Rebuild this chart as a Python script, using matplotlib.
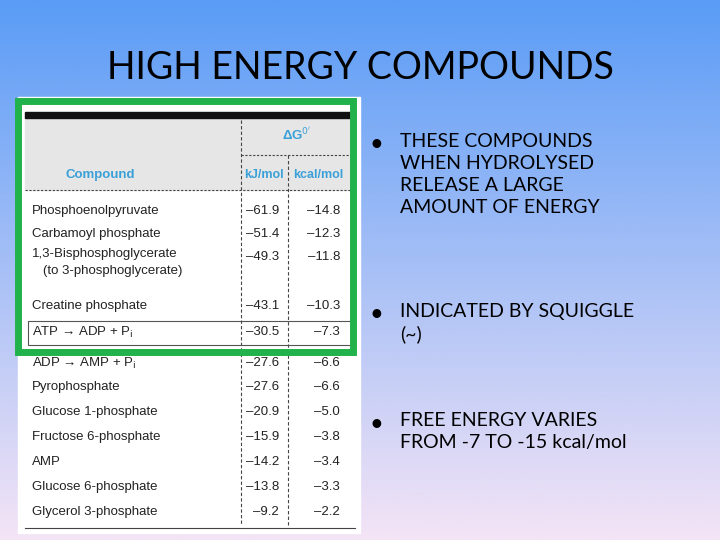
import matplotlib
matplotlib.use("Agg")
import matplotlib.pyplot as plt
import numpy as np
from matplotlib.patches import Rectangle

compounds = ["Phosphoenolpyruvate", "Carbamoyl phosphate", "1,3-Bisphosphoglycerate\n   (to 3-phosphoglycerate)",
             "Creatine phosphate", "ATP → ADP + P$_\\mathrm{i}$", "ADP → AMP + P$_\\mathrm{i}$", "Pyrophosphate",
             "Glucose 1-phosphate", "Fructose 6-phosphate", "AMP", "Glucose 6-phosphate", "Glycerol 3-phosphate"]
kj = ["–61.9", "–51.4", "–49.3", "–43.1", "–30.5", "–27.6", "–27.6", "–20.9", "–15.9", "–14.2", "–13.8", "–9.2"]
kcal = ["–14.8", "–12.3", "–11.8", "–10.3", "–7.3", "–6.6", "–6.6", "–5.0", "–3.8", "–3.4", "–3.3", "–2.2"]
row_y = [211, 234, 257, 306, 332, 363, 387, 412, 437, 462, 487, 512]
bullets = ["THESE COMPOUNDS\nWHEN HYDROLYSED\nRELEASE A LARGE\nAMOUNT OF ENERGY",
           "INDICATED BY SQUIGGLE\n(~)",
           "FREE ENERGY VARIES\nFROM -7 TO -15 kcal/mol"]
bullet_y = [145, 315, 424]

plt.rcParams['font.family'] = ['Liberation Sans', 'DejaVu Sans']
fig = plt.figure(figsize=(7.2, 5.4), dpi=100)
ax = fig.add_axes([0, 0, 1, 1])
ax.set_xlim(0, 720); ax.set_ylim(540, 0); ax.axis('off')

top = np.array([0x5a, 0x9c, 0xf6]) / 255
bot = np.array([0xf4, 0xe4, 0xf6]) / 255
t = np.linspace(0, 1, 256)[:, None, None]
grad = top * (1 - t) + bot * t
grad = np.repeat(grad, 2, axis=1)
ax.imshow(grad, extent=[0, 720, 540, 0], aspect='auto', zorder=0)

slide = ['Lato', 'DejaVu Sans']
ax.text(360, 68, "HIGH ENERGY COMPOUNDS", ha='center', va='center', fontsize=27, color='black', family=slide)

# table
ax.add_patch(Rectangle((18, 97), 342, 436, color='white', zorder=1))
ax.add_patch(Rectangle((25, 117), 330, 73, color='#e6e6e6', zorder=1))
ax.add_patch(Rectangle((25, 112), 330, 6, color='#111111', zorder=2))
ax.plot([241, 241], [120, 525], color='#444', lw=0.8, ls=(0, (3, 2)), zorder=2)
ax.plot([288, 288], [155, 525], color='#444', lw=0.8, ls=(0, (3, 2)), zorder=2)
ax.plot([241, 355], [155, 155], color='#444', lw=0.8, ls=(0, (2, 1.5)), zorder=2)
ax.plot([25, 355], [190, 190], color='#444', lw=0.8, ls=(0, (2, 1.5)), zorder=2)
ax.plot([25, 355], [528, 528], color='#444', lw=0.8, zorder=2)
ax.add_patch(Rectangle((28, 321), 325, 24, fill=False, ec='#555', lw=0.8, zorder=2))
hc = '#3aa0d8'
ax.text(297, 135, "ΔG$^{0'}$", ha='center', va='center', fontsize=9.5, color=hc, weight='bold', zorder=3)
ax.text(100, 175, "Compound", ha='center', va='center', fontsize=9.5, color=hc, weight='bold', zorder=3)
ax.text(264, 175, "kJ/mol", ha='center', va='center', fontsize=9, color=hc, weight='bold', zorder=3)
ax.text(318, 175, "kcal/mol", ha='center', va='center', fontsize=9, color=hc, weight='bold', zorder=3)
for c, a, b, y in zip(compounds, kj, kcal, row_y):
    if "\n" in c:
        ax.text(32, y - 9, c, ha='left', va='top', fontsize=9.5, color='#222', linespacing=1.6, zorder=3)
    else:
        ax.text(32, y, c, ha='left', va='center', fontsize=9.5, color='#222', zorder=3)
    ax.text(279, y, a, ha='right', va='center', fontsize=9.5, color='#222', zorder=3)
    ax.text(340, y, b, ha='right', va='center', fontsize=9.5, color='#222', zorder=3)

ax.add_patch(Rectangle((18, 101), 335, 251, fill=False, ec='#21b24b', lw=5, zorder=4))

for txt, y in zip(bullets, bullet_y):
    ax.text(370, y, "•", ha='left', va='center', fontsize=17, zorder=3, family=slide)
    ax.text(400, y - 12, txt, ha='left', va='top', fontsize=14, linespacing=1.35, zorder=3, family=slide)

fig.savefig("out.png", dpi=100)
